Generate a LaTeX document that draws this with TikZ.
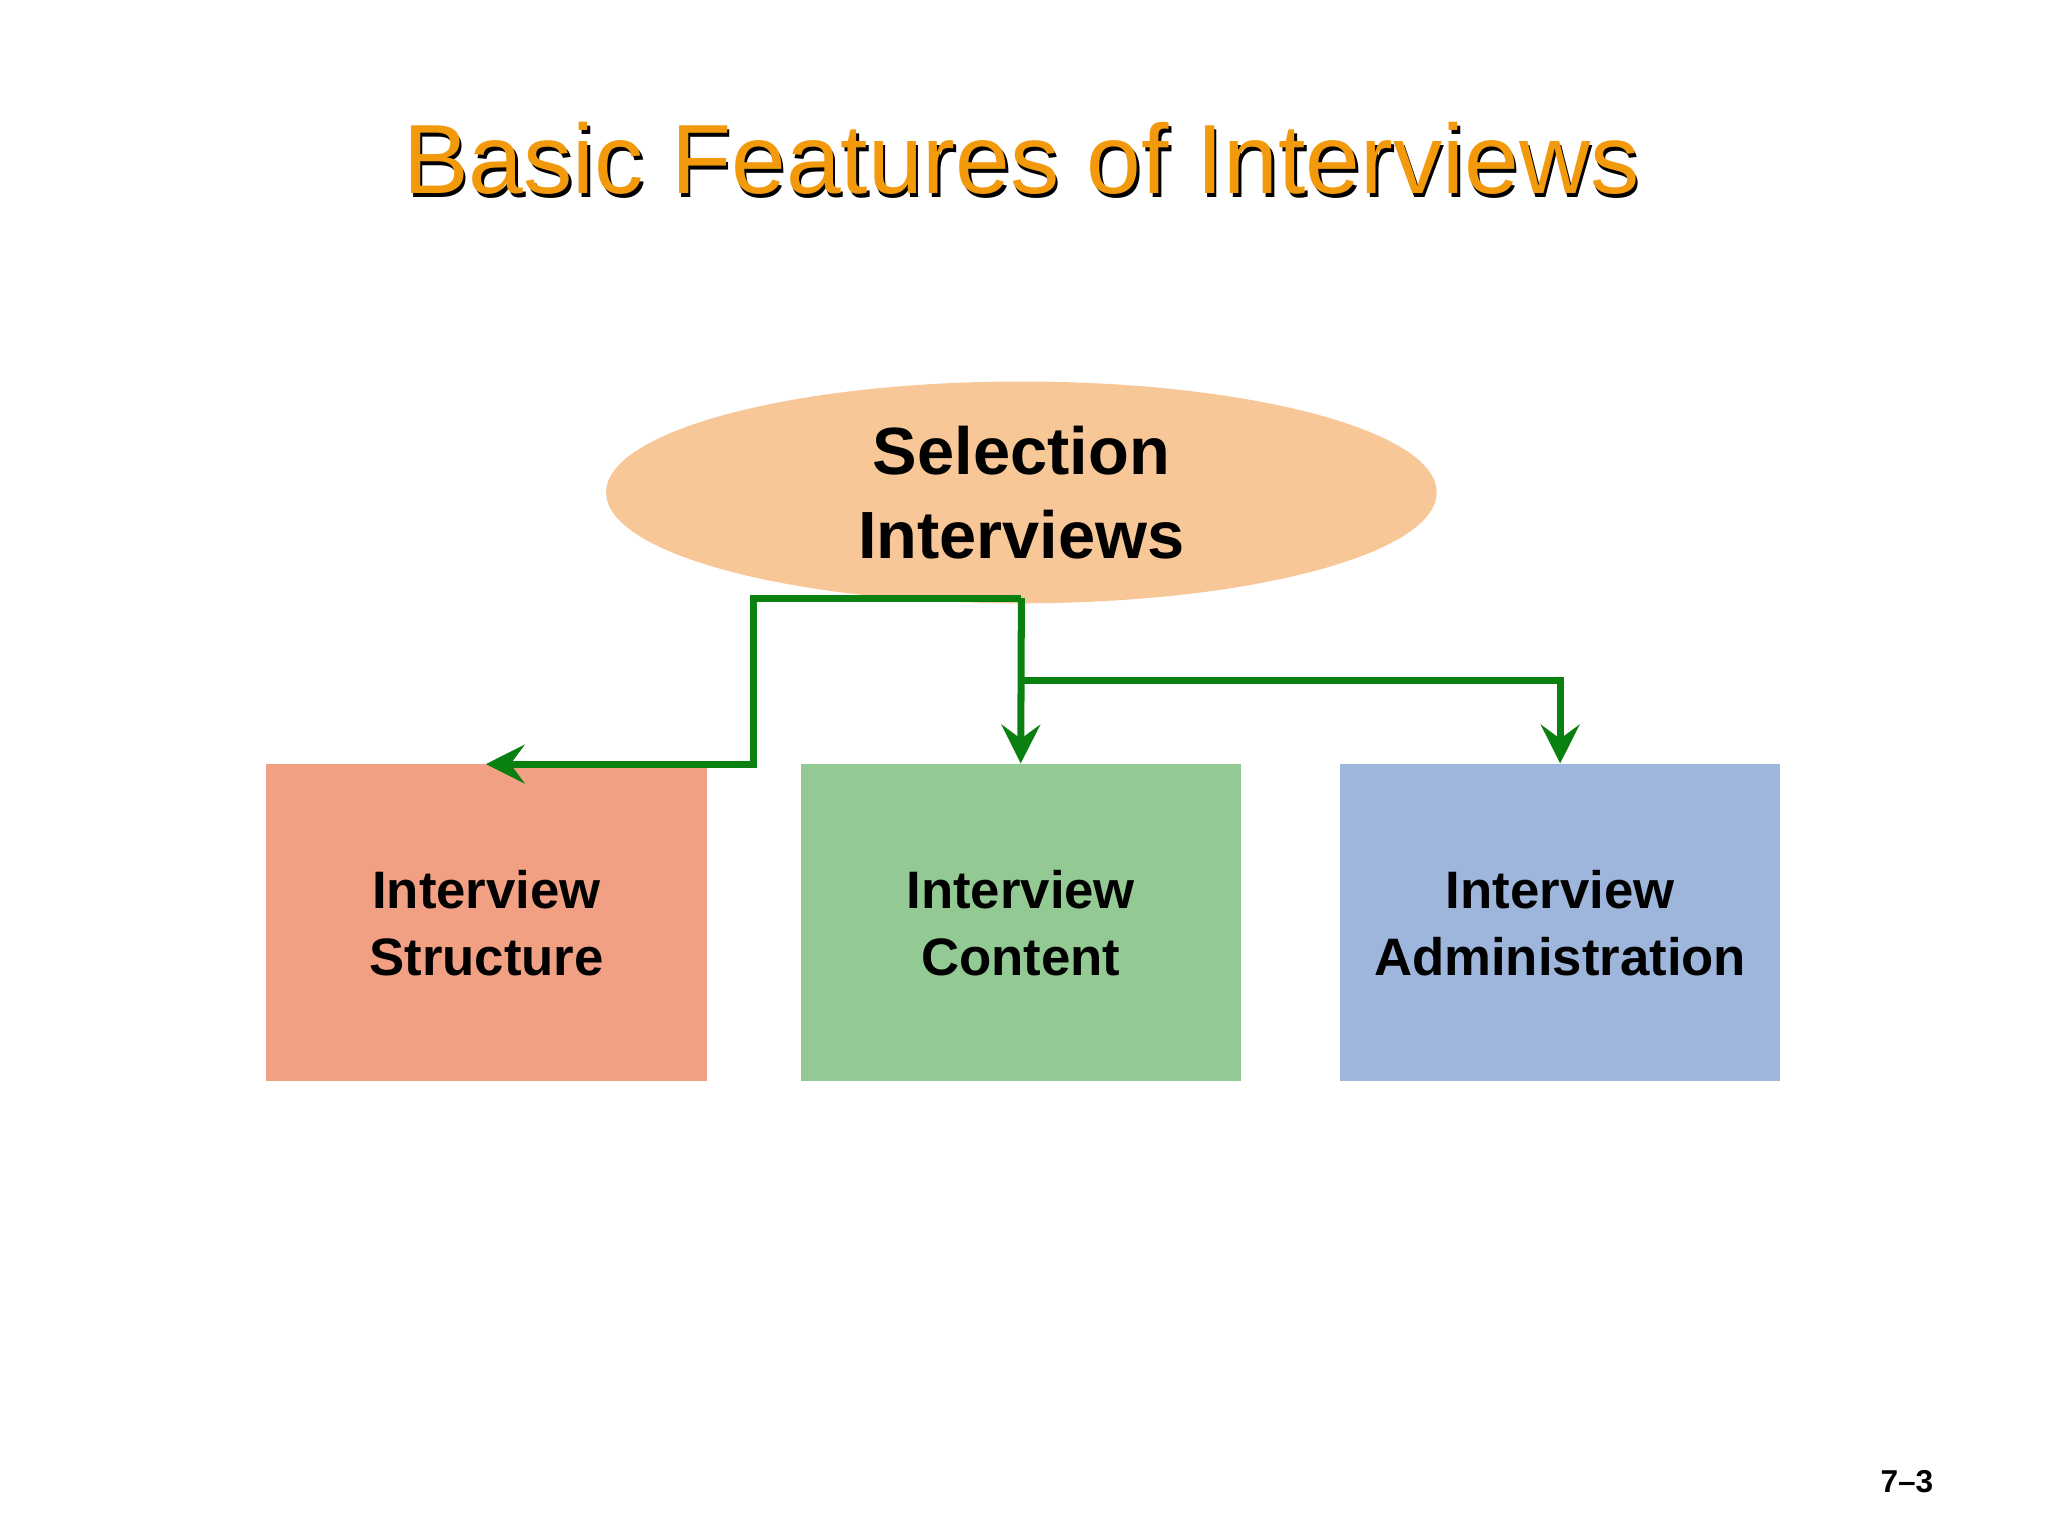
\documentclass[tikz,border=0pt]{standalone}
\usepackage{fontspec}
\setmainfont{Liberation Sans}
\usetikzlibrary{arrows.meta, shapes.geometric, positioning, calc}
\definecolor{titleorange}{HTML}{F39A0C}
\definecolor{ovalfill}{HTML}{F8C797}
\definecolor{structfill}{HTML}{F2A083}
\definecolor{contentfill}{HTML}{93CA93}
\definecolor{adminfill}{HTML}{9FB6DC}
\definecolor{linkgreen}{HTML}{0A8010}

\begin{document}
\begin{tikzpicture}[x=0.01306cm, y=-0.01306cm]
	\tikzstyle{box} = [
	rectangle,
	minimum width=337*0.01306cm,
	minimum height=243*0.01306cm,
	align=center,
	font=\fontsize{15}{19}\selectfont\bfseries
	]
	\tikzstyle{link} = [
	draw=linkgreen,
	line width=2pt,
	-{Stealth[length=11pt, width=11pt, inset=4pt]}
	]
	
	\useasboundingbox[fill=white] (0,0) rectangle (1568,1176);
	
	\node[text=black] at (784,124) {\fontsize{28}{32}\selectfont Basic Features of Interviews};
	\node[text=titleorange] (title) at (782,121) {\fontsize{28}{32}\selectfont Basic Features of Interviews};
	
	\node[ellipse, fill=ovalfill, minimum width=636*0.01306cm, minimum height=164*0.01306cm, align=center, font=\fontsize{19}{24}\selectfont\bfseries] (sel) at (782,377) {Selection\\Interviews};
	
	\node[box, fill=structfill] (struct) at (372.5,706.5) {Interview\\Structure};
	\node[box, fill=contentfill] (content) at (781.5,706.5) {Interview\\ Content};
	\node[box, fill=adminfill] (admin) at (1194.5,706.5) {Interview\\Administration};
	
	\coordinate (top) at (782,458);
	\coordinate (fork) at (782,521);
	\coordinate (endstruct) at (372,585);
	
	\draw[link] (top) -| (577,585) -- (endstruct);
	\draw[link] (top) -- (content.north);
	\draw[link] (fork) -| (admin.north);
	
	\node[font=\fontsize{9}{11}\selectfont\bfseries] (page) at (1460,1134) {7--3};
\end{tikzpicture}
\end{document}
